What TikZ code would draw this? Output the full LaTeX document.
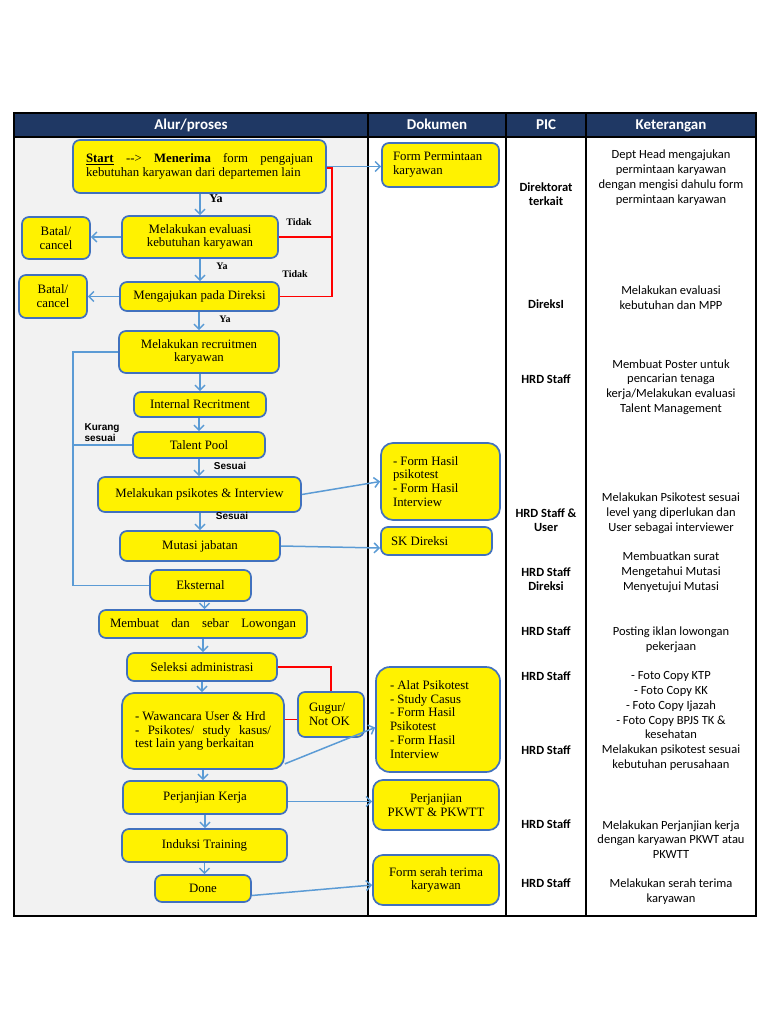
\documentclass[tikz,border=0pt]{standalone}
\usepackage{fontspec}
\setmainfont{Liberation Serif}
\setsansfont{Carlito}
\newfontfamily\arialfont{Liberation Sans}
\usetikzlibrary{arrows.meta}
\definecolor{kepala}{RGB}{31,56,100}
\definecolor{garis}{RGB}{65,113,190}
\definecolor{panah}{RGB}{91,155,213}
\definecolor{latar}{RGB}{242,242,242}

\begin{document}
\begin{tikzpicture}[x=1pt,y=-1pt,>={Straight Barb[length=5pt,width=10pt]},
	proses/.style={draw=garis,fill=yellow,line width=1.7pt,rounded corners=7pt,inner sep=0pt,align=center,font=\fontsize{12.8}{13.8}\selectfont},
	alur/.style={->,draw=panah,line width=1.5pt},
	balik/.style={draw=panah,line width=1.5pt},
	tolak/.style={draw=red,line width=1.5pt},
	ket/.style={align=center,font=\sffamily\fontsize{12.5}{14.8}\selectfont},
	pic/.style={align=center,font=\sffamily\bfseries\fontsize{12.5}{14.5}\selectfont},
	judul/.style={text=white,anchor=base,font=\sffamily\bfseries\fontsize{15}{16}\selectfont},
	ya/.style={font=\bfseries\fontsize{10}{11}\selectfont},
	cocok/.style={font=\arialfont\bfseries\fontsize{10}{11}\selectfont,align=flush left}]
	\useasboundingbox (0,0) rectangle (768,1024);
	
	\begin{scope}
		\fill[latar] (14,137) rectangle (368,916);
		\fill[kepala] (14,113) rectangle (756,137);
		\draw[line width=1.2pt] (14,113) rectangle (756,916)
		(14,137) -- (756,137);
		\foreach \x in {368,506,586}
			\draw[line width=1.2pt] (\x,113) -- (\x,916);
		\node[judul] (h1) at (191,130) {Alur/proses};
		\node[judul] (h2) at (437,130) {Dokumen};
		\node[judul] (h3) at (546,130) {PIC};
		\node[judul] (h4) at (671,130) {Keterangan};
	\end{scope}
	
	\begin{scope}
		\node[proses,minimum width=253pt,minimum height=53pt,text width=227pt,align=flush left] (start) at (199.5,166.5) {\underline{\textbf{Start}}\hfill -{}->\hfill \textbf{Menerima}\hfill form\hfill pengajuan\\kebutuhan karyawan dari departemen lain};
		\node[proses,minimum width=156pt,minimum height=42pt] (evaluasi) at (200,237) {Melakukan evaluasi\\kebutuhan karyawan};
		\node[proses,minimum width=68pt,minimum height=42pt] (batal1) at (56,238) {Batal/\\cancel};
		\node[proses,minimum width=159pt,minimum height=29pt] (direksi) at (199.5,296.5) {Mengajukan pada Direksi};
		\node[proses,minimum width=68pt,minimum height=43pt] (batal2) at (53,296.5) {Batal/\\cancel};
		\node[proses,minimum width=160pt,minimum height=42pt] (recruit) at (199,352) {Melakukan recruitmen\\karyawan};
		\node[proses,minimum width=132pt,minimum height=25pt] (internal) at (200,404.5) {Internal Recritment};
		\node[proses,minimum width=132pt,minimum height=26pt] (talent) at (199,445) {Talent Pool};
		\node[proses,minimum width=203pt,minimum height=35pt] (psikotes) at (199.5,494.5) {Melakukan psikotes \& Interview};
		\node[proses,minimum width=160pt,minimum height=30pt] (mutasi) at (200,546) {Mutasi jabatan};
		\node[proses,minimum width=101pt,minimum height=31pt] (eksternal) at (200.5,585.5) {Eksternal};
		\node[proses,minimum width=208pt,minimum height=28pt,text width=186pt,align=flush left] (lowongan) at (203,624) {Membuat\hfill dan\hfill sebar\hfill Lowongan};
		\node[proses,minimum width=150pt,minimum height=28pt] (seleksi) at (202,667) {Seleksi administrasi};
		\node[proses,minimum width=162pt,minimum height=76pt,text width=136pt,align=flush left,rounded corners=12pt] (wawancara) at (203,731) {- Wawancara User \& Hrd\\-\hfill Psikotes/\hfill study\hfill kasus/\\test lain yang berkaitan};
		\node[proses,minimum width=66pt,minimum height=45pt,text width=44pt,align=flush left] (gugur) at (331,714.5) {Gugur/\\Not OK};
		\node[proses,minimum width=164pt,minimum height=33pt] (perjanjian) at (205,797.5) {Perjanjian Kerja};
		\node[proses,minimum width=165pt,minimum height=33pt] (induksi) at (204.5,845.5) {Induksi Training};
		\node[proses,minimum width=96pt,minimum height=27pt] (done) at (203,888.5) {Done};
	\end{scope}
	
	\begin{scope}
		\node[proses,minimum width=117pt,minimum height=44pt,text width=95pt,align=flush left] (formminta) at (440.5,165) {Form Permintaan\\karyawan};
		\node[proses,minimum width=119pt,minimum height=77pt,text width=95pt,align=flush left,rounded corners=12pt] (formhasil) at (440.5,481.5) {- Form Hasil\\psikotest\\- Form Hasil\\Interview};
		\node[proses,minimum width=111pt,minimum height=28pt,text width=91pt,align=flush left] (sk) at (436.5,541) {SK Direksi};
		\node[proses,minimum width=124pt,minimum height=105pt,text width=96pt,align=flush left,rounded corners=14pt] (alat) at (438,719.5) {- Alat Psikotest\\- Study Casus\\- Form Hasil\\Psikotest\\- Form Hasil\\Interview};
		\node[proses,minimum width=126pt,minimum height=50pt,rounded corners=10pt] (pkwt) at (436,805) {Perjanjian\\PKWT \& PKWTT};
		\node[proses,minimum width=126pt,minimum height=50pt,rounded corners=10pt] (serah) at (436,880) {Form serah terima\\karyawan};
	\end{scope}
	
	\coordinate (sudut) at (332,168);
	\coordinate (kiriatas) at (73,352);
	\coordinate (kiribawah) at (73,585.5);
	
	\draw[alur] (start.east) -- (start.east -| formminta.west);
	\draw[tolak] (direksi.east) -| (sudut) -- (sudut -| start.east);
	\draw[tolak] (evaluasi.east) -- (evaluasi.east -| sudut);
	\draw[alur] (start.south -| evaluasi.north) -- (evaluasi.north);
	\draw[alur] (evaluasi.west) -- (evaluasi.west -| batal1.east);
	\draw[alur] (evaluasi.south) -- (evaluasi.south |- direksi.north);
	\draw[alur] (direksi.west) -- (direksi.west -| batal2.east);
	\draw[alur] (direksi.south -| recruit.north) -- (recruit.north);
	\draw[alur] (recruit.south -| internal.north) -- (internal.north);
	\draw[alur] (internal.south -| talent.north) -- (talent.north);
	\draw[alur] (talent.south) -- (talent.south |- psikotes.north);
	\draw[alur] (psikotes.south -| mutasi.north) -- (mutasi.north);
	\draw[balik] (eksternal.west) -- (kiribawah) -- (kiriatas) -- (recruit.west);
	\draw[balik] (talent.west) -- (talent.west -| kiriatas);
	\draw[alur] (psikotes.east) -- (formhasil.west);
	\draw[alur] (mutasi.east) -- ([yshift=-7pt]sk.west);
	\draw[alur] ([xshift=4pt]eksternal.south) -- ([xshift=4pt]eksternal.south |- lowongan.north);
	\draw[alur] (lowongan.south) -- (lowongan.south |- seleksi.north);
	\draw[alur] (seleksi.south) -- (seleksi.south |- wawancara.north);
	\draw[tolak] (seleksi.east) -| (gugur.north);
	\draw[tolak] ([yshift=-5pt]gugur.west) -- ([yshift=-5pt]gugur.west -| wawancara.east);
	\draw[alur] ([yshift=6pt]wawancara.south east) -- ([yshift=-8pt]alat.west);
	\draw[alur] (wawancara.south) -- (wawancara.south |- perjanjian.north);
	\draw[alur] (perjanjian.south) -- (perjanjian.south |- induksi.north);
	\draw[alur] (induksi.south) -- (induksi.south |- done.north);
	\draw[alur] ([yshift=-4pt]perjanjian.east) -- ([yshift=-4pt]perjanjian.east -| pkwt.west);
	\draw[alur] ([yshift=-7pt]done.east) -- ([yshift=-5pt]serah.west);
	
	\node[ya,font=\bfseries\fontsize{12}{13}\selectfont] (ya1) at (216,199) {Ya};
	\node[ya] (tidak1) at (299,222) {Tidak};
	\node[ya] (ya2) at (222,266) {Ya};
	\node[ya] (tidak2) at (295,274) {Tidak};
	\node[ya] (ya3) at (225,319) {Ya};
	\node[cocok,anchor=west] (kurang) at (81,432.5) {Kurang\\sesuai};
	\node[cocok] (sesuai1) at (230,466) {Sesuai};
	\node[cocok] (sesuai2) at (232,516) {Sesuai};
	
	\foreach \y/\t [count=\i] in {194/{Direktorat\\terkait},304/{DireksI},379/{HRD Staff},520/{HRD Staff \&\\User},579/{HRD Staff\\Direksi},631/{HRD Staff},676/{HRD Staff},750/{HRD Staff},824/{HRD Staff},883/{HRD Staff}}
		\node[pic] (pic\i) at (546,\y) {\t};
	
	\node[ket] (ket1) at (671,177.5) {Dept Head mengajukan\\permintaan karyawan\\dengan mengisi dahulu form\\permintaan karyawan};
	\node[ket] (ket2) at (671,297.5) {Melakukan evaluasi\\kebutuhan dan MPP};
	\node[ket] (ket3) at (671,387) {Membuat Poster untuk\\pencarian tenaga\\kerja/Melakukan evaluasi\\Talent Management};
	\node[ket] (ket4) at (671,513.5) {Melakukan Psikotest sesuai\\level yang diperlukan dan\\User sebagai interviewer};
	\node[ket] (ket5) at (671,572.5) {Membuatkan surat\\Mengetahui Mutasi\\Menyetujui Mutasi};
	\node[ket] (ket6) at (671,639.5) {Posting iklan lowongan\\pekerjaan};
	\node[ket] (ket7) at (671,721) {- Foto Copy KTP\\- Foto Copy KK\\- Foto Copy Ijazah\\- Foto Copy BPJS TK \&\\kesehatan\\Melakukan psikotest sesuai\\kebutuhan perusahaan};
	\node[ket] (ket8) at (671,839.5) {Melakukan Perjanjian kerja\\dengan karyawan PKWT atau\\PKWTT};
	\node[ket] (ket9) at (671,891.5) {Melakukan serah terima\\karyawan};
\end{tikzpicture}
\end{document}
